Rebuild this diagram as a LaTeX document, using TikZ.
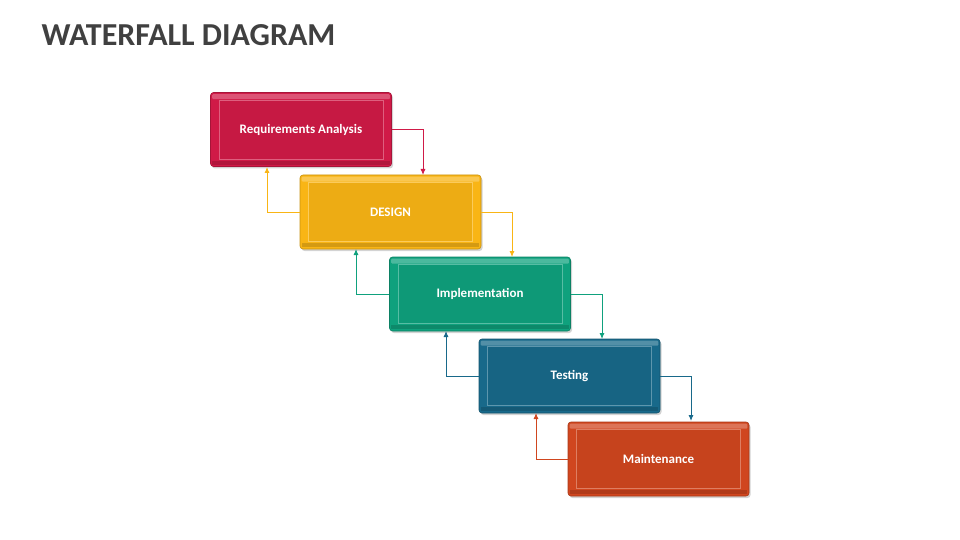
\documentclass[tikz,border=0pt]{standalone}
\usepackage{fontspec}
\setmainfont{Carlito}
\usetikzlibrary{shadows,arrows.meta}
\definecolor{cA}{HTML}{D01A47}
\definecolor{cB}{HTML}{F9B515}
\definecolor{cC}{HTML}{0FA17D}
\definecolor{cD}{HTML}{18698A}
\definecolor{cE}{HTML}{D0461F}
\definecolor{ttl}{HTML}{404040}
\begin{document}
\begin{tikzpicture}[x=1pt,y=-1pt,
  stage/.style={draw=#1!80!black, line width=0.6pt, fill=#1, rounded corners=3pt, minimum width=181pt, minimum height=74pt, text=white, font=\bfseries\fontsize{13}{15}\selectfont, drop shadow={opacity=0.35, shadow xshift=1.5pt, shadow yshift=-2pt}},
  bevel/.style={draw=#1!70!white, line width=0.5pt, fill=#1!95!black},
  link/.style={draw=#1, line width=0.9pt, -{Latex[length=6pt,width=5pt]}}]
\useasboundingbox (0,0) rectangle (960,540);
\node[anchor=west, text=ttl, font=\bfseries\fontsize{32}{36}\selectfont] (title) at (38,35) {WATERFALL DIAGRAM};
\foreach \n/\c/\x/\y/\t in {a/cA/301/129.5/Requirements Analysis, b/cB/390.5/212/DESIGN, c/cC/480/294/Implementation, d/cD/569.5/376/Testing, e/cE/658.5/459/Maintenance}{
  \node[stage=\c] (\n) at (\x,\y) {};
  \fill[\c!75!white, rounded corners=1pt] ([xshift=2pt,yshift=-2pt]\n.north west) rectangle ([xshift=-2pt,yshift=-7pt]\n.north east);
  \fill[\c!85!black] ([xshift=2pt,yshift=6pt]\n.south west) rectangle ([xshift=-2pt,yshift=2pt]\n.south east);
  \draw[bevel=\c] ([xshift=9pt,yshift=-8pt]\n.north west) rectangle ([xshift=-9pt,yshift=8pt]\n.south east);
  \node[text=white, font=\bfseries\fontsize{13}{15}\selectfont] at (\n) {\t};
}
\draw[link=cA] (a.east) -| (423,175);
\draw[link=cB] (b.east) -| (512,257);
\draw[link=cC] (c.east) -| (602,339);
\draw[link=cD] (d.east) -| (691,421);
\draw[link=cB] (b.west) -| (267,167);
\draw[link=cC] (c.west) -| (356,249);
\draw[link=cD] (d.west) -| (446,331);
\draw[link=cE] (e.west) -| (536,413);
\end{tikzpicture}
\end{document}
